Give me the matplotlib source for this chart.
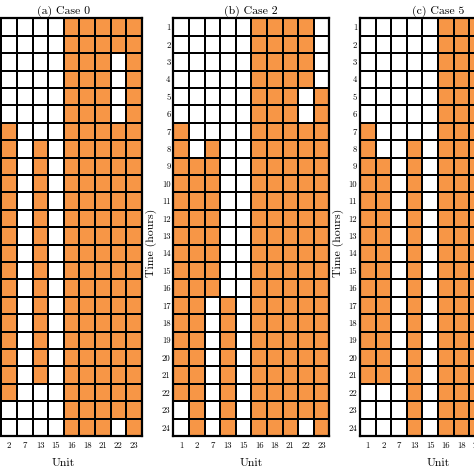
import matplotlib
matplotlib.use("Agg")
import matplotlib.pyplot as plt
from matplotlib.colors import ListedColormap
import numpy as np

plt.rcParams['font.family'] = ['cmr10', 'DejaVu Serif']
plt.rcParams['axes.formatter.use_mathtext'] = True

units = [1, 2, 7, 13, 15, 16, 18, 21, 22, 23]
hours = list(range(1, 25))
titles = ["(a) Case 0", "(b) Case 2", "(c) Case 5"]

# on-periods (first hour, last hour) for each unit
case0_on = [[(7, 22)], [(7, 22)], [], [(8, 21)], [],
            [(1, 24)], [(1, 24)], [(1, 24)], [(1, 2), (7, 23)], [(1, 24)]]
case2_on = [[(7, 22)], [(9, 24)], [(8, 16)], [(17, 24)], [],
            [(1, 24)], [(1, 24)], [(1, 24)], [(1, 4), (7, 23)], [(5, 24)]]
case5_on = [[(7, 21)], [(9, 21)], [], [(8, 24)], [],
            [(1, 24)], [(1, 24)], [(1, 24)], [(1, 4), (7, 23)], [(1, 24)]]
cases = [case0_on, case2_on, case5_on]

orange = "#F79646"
cmap = ListedColormap(["white", orange])

def to_grid(on):
    g = np.zeros((len(hours), len(units)))
    for j, spans in enumerate(on):
        for a, b in spans:
            g[a - 1:b, j] = 1
    return g

fig = plt.figure(figsize=(4.74, 4.74), dpi=100)
W, H = 474.0, 474.0
lefts = [-14.3, 173.3, 360.0]
top, bottom = 18.3, 436.0
pw = 156.0

for k, (left, on) in enumerate(zip(lefts, cases)):
    ax = fig.add_axes([left / W, (H - bottom) / H, pw / W, (bottom - top) / H])
    g = to_grid(on)
    ax.pcolormesh(np.arange(len(units) + 1), np.arange(len(hours) + 1), g,
                  cmap=cmap, vmin=0, vmax=1, edgecolors='k', linewidth=1.4)
    ax.set_xlim(0, len(units))
    ax.set_ylim(len(hours), 0)
    ax.set_xticks(np.arange(len(units)) + 0.5)
    ax.set_xticklabels([str(u) for u in units])
    ax.set_yticks(np.arange(len(hours)) + 0.5)
    ax.set_yticklabels([str(h) for h in hours])
    ax.tick_params(length=0, labelsize=6.3)
    ax.tick_params(axis='x', pad=4)
    ax.tick_params(axis='y', pad=2)
    for s in ax.spines.values():
        s.set_linewidth(1.6)
    ax.set_title(titles[k], fontsize=8.5, pad=3)
    ax.set_xlabel("Unit", fontsize=8.5, labelpad=6)
    ax.set_ylabel("Time (hours)", fontsize=8.5)
    ax.yaxis.set_label_coords(-0.105, 0.462)

fig.savefig("out.png", dpi=100)
